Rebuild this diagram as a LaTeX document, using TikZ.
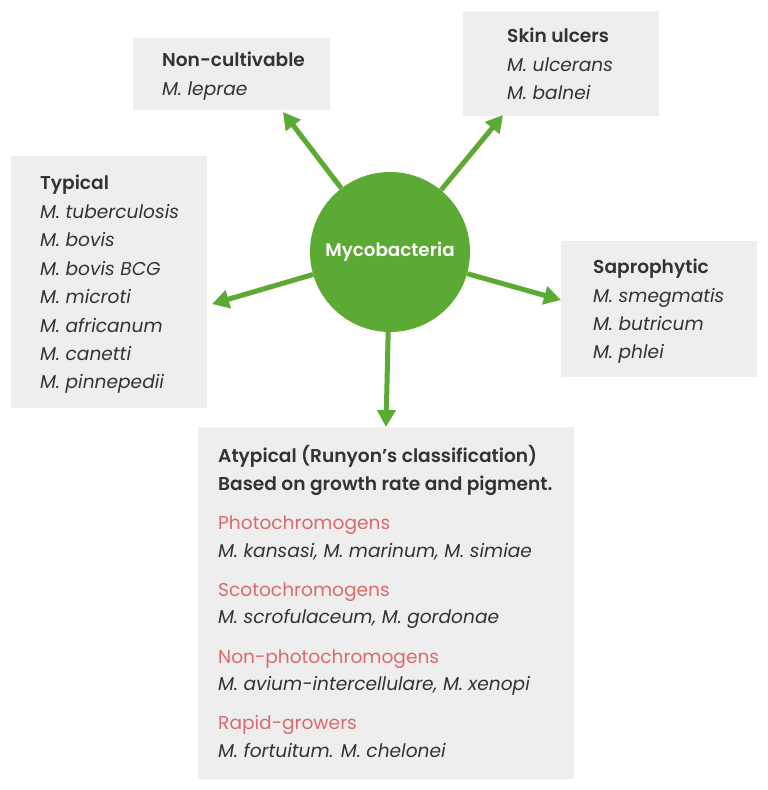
\documentclass[tikz,border=0pt]{standalone}
\usepackage{fontspec}
\setmainfont{Poppins}[BoldFont={Poppins SemiBold}]
\usetikzlibrary{arrows.meta}
\definecolor{mgreen}{HTML}{5BAA33}
\definecolor{boxgray}{HTML}{EEEEEE}
\definecolor{txt}{HTML}{333333}
\definecolor{redt}{HTML}{D96B6E}
\begin{document}
\begin{tikzpicture}[x=1pt,y=-1pt,
 box/.style={fill=boxgray, draw=none, anchor=north west, inner sep=0pt},
 ttl/.style={anchor=base west, font=\fontsize{18.6}{20}\selectfont\bfseries, text=txt, inner sep=0pt},
 itm/.style={anchor=base west, font=\fontsize{18.6}{20}\selectfont\itshape, text=txt, inner sep=0pt},
 sub/.style={anchor=base west, font=\fontsize{18.6}{20}\selectfont, text=redt, inner sep=0pt},
 arr/.style={draw=mgreen, line width=5pt, -{Triangle[length=17pt,width=18pt]}},
]
\path[use as bounding box, fill=white] (0,0) rectangle (768,790);

% boxes
\node[box, minimum width=197pt, minimum height=72pt] (bNC) at (133,38) {};
\node[box, minimum width=196pt, minimum height=105pt] (bSU) at (463,11) {};
\node[box, minimum width=196pt, minimum height=252pt] (bTY) at (11,156) {};
\node[box, minimum width=196pt, minimum height=136pt] (bSA) at (561,241) {};
\node[box, minimum width=376pt, minimum height=352pt] (bAT) at (198,427) {};

% Non-cultivable
\node[ttl] (nc1) at (162,66) {Non-cultivable};
\node[itm] (nc2) at (162,95) {M. leprae};

% Skin ulcers
\node[ttl] (su1) at (507,42) {Skin ulcers};
\node[itm] (su2) at (507,71) {M. ulcerans};
\node[itm] (su3) at (507,99) {M. balnei};

% Typical
\node[ttl] (ty1) at (40,189) {Typical};
\node[itm] (ty2) at (40,218) {M. tuberculosis};
\node[itm] (ty3) at (40,246.5) {M. bovis};
\node[itm] (ty4) at (40,275) {M. bovis BCG};
\node[itm] (ty5) at (40,303) {M. microti};
\node[itm] (ty6) at (40,332) {M. africanum};
\node[itm] (ty7) at (40,360) {M. canetti};
\node[itm] (ty8) at (40,388) {M. pinnepedii};

% Saprophytic
\node[ttl] (sa1) at (593,273) {Saprophytic};
\node[itm] (sa2) at (593,302) {M. smegmatis};
\node[itm] (sa3) at (593,330) {M. butricum};
\node[itm] (sa4) at (593,358) {M. phlei};

% Atypical
\node[ttl] (at1) at (218,462) {Atypical (Runyon’s classification)};
\node[ttl] (at2) at (218,490) {Based on growth rate and pigment.};
\node[sub] (at3) at (218,529) {Photochromogens};
\node[itm] (at4) at (218,557) {M. kansasi, M. marinum, M. simiae};
\node[sub] (at5) at (218,596) {Scotochromogens};
\node[itm] (at6) at (218,623) {M. scrofulaceum, M. gordonae};
\node[sub] (at7) at (218,663) {Non-photochromogens};
\node[itm] (at8) at (218,690) {M. avium-intercellulare, M. xenopi};
\node[sub] (at9) at (218,729) {Rapid-growers};
\node[itm] (at10) at (218,757) {M. fortuitum. M. chelonei};

% center
\node[circle, fill=mgreen, minimum size=160pt, inner sep=0pt, text=white,
      font=\fontsize{18.3}{20}\selectfont\bfseries] (myco) at (390,252) {Mycobacteria};

% arrow tips
\coordinate (tNC) at (283,112);
\coordinate (tSU) at (503,115);
\coordinate (tTY) at (212,304);
\coordinate (tSA) at (561,300);
\coordinate (tAT) at (386,427);

\draw[arr] (myco) -- (tNC);
\draw[arr] (myco) -- (tSU);
\draw[arr] (myco) -- (tTY);
\draw[arr] (myco) -- (tSA);
\draw[arr] (myco) -- (tAT);
\end{tikzpicture}
\end{document}
